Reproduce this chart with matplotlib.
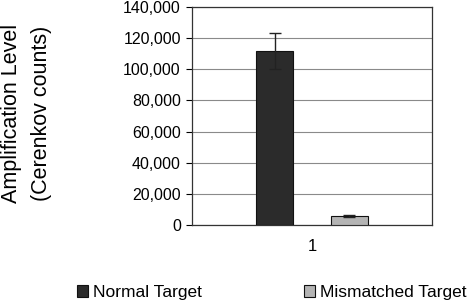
import matplotlib
matplotlib.use("Agg")
import matplotlib.pyplot as plt
from matplotlib.ticker import FuncFormatter
from matplotlib.patches import Patch

plt.rcParams['font.family'] = ['Liberation Sans', 'DejaVu Sans']

categories = ["1"]
series_names = ["Normal Target", "Mismatched Target"]
values = [112000, 5800]
errors = [11500, 800]
colors = ["#2b2b2b", "#b4b4b4"]
yticks = [0, 20000, 40000, 60000, 80000, 100000, 120000, 140000]

fig = plt.figure(figsize=(4.74, 3.05), dpi=100)
ax = fig.add_axes([0.405, 0.262, 0.506, 0.715])

width = 0.154
offsets = [-0.155, 0.155]
for i, (name, v, e, c) in enumerate(zip(series_names, values, errors, colors)):
    ax.bar(1 + offsets[i], v, width=width, color=c, edgecolor="#111111", linewidth=0.8,
           yerr=e, capsize=4, error_kw=dict(elinewidth=1, ecolor="#222222", capthick=1),
           label=name, zorder=3)

ax.set_xlim(0.5, 1.5)
ax.set_ylim(0, 140000)
ax.set_yticks(yticks)
ax.yaxis.set_major_formatter(FuncFormatter(lambda v, p: f"{int(v):,}"))
ax.set_xticks([1])
ax.set_xticklabels(categories)
ax.tick_params(axis='y', labelsize=11.5, length=4, width=0.8, direction='out', pad=4)
ax.tick_params(axis='x', labelsize=12, length=0, pad=10)
ax.grid(axis='y', color="#8a8a8a", linewidth=0.8, zorder=0)
for s in ax.spines.values():
    s.set_color("#333333")
    s.set_linewidth(0.9)

fig.text(0.025, 0.628, "Amplification Level", rotation=90, ha='center', va='center', fontsize=15.5)
fig.text(0.087, 0.628, "(Cerenkov counts)", rotation=90, ha='center', va='center', fontsize=15.5)

handles = [Patch(facecolor=c, edgecolor="#111111", linewidth=0.8) for c in colors]
fig.legend(handles, series_names, loc='center', bbox_to_anchor=(0.573, 0.04), ncol=2,
           frameon=False, fontsize=12.5, handlelength=0.65, handleheight=0.65,
           handletextpad=0.3, columnspacing=5.85, borderaxespad=0)

fig.savefig("out.png", dpi=100)
